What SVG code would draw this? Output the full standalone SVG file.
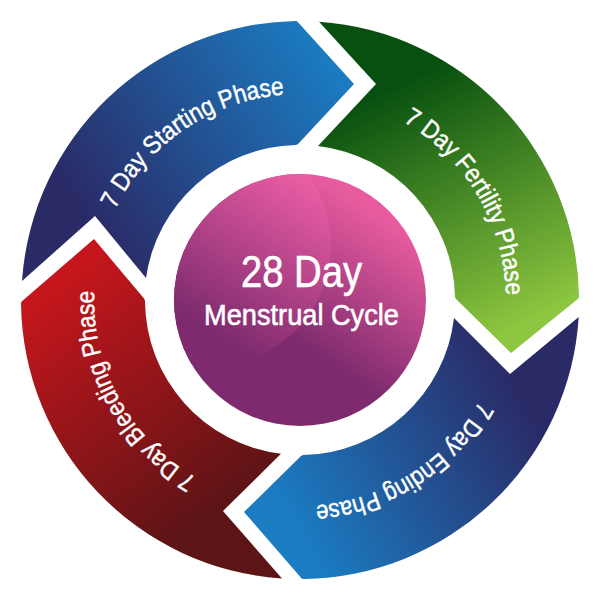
<svg xmlns="http://www.w3.org/2000/svg" width="600" height="600" viewBox="0 0 600 600">
<style>
.lbl{font-family:"Liberation Sans",Arial,sans-serif;font-size:25.5px;fill:#fff;stroke:#fff;stroke-width:.45px}
.ctr{font-family:"Liberation Sans",Arial,sans-serif;fill:#fff;stroke:#fff;stroke-width:.6px}
</style>
<defs>
<linearGradient id="gBlue" gradientUnits="userSpaceOnUse" x1="340" y1="70" x2="95" y2="235"><stop offset="0" stop-color="#1b7cc2"/><stop offset="1" stop-color="#2a2a66"/></linearGradient>
<linearGradient id="gGreen" gradientUnits="userSpaceOnUse" x1="385" y1="90" x2="500" y2="335"><stop offset="0" stop-color="#07500f"/><stop offset="1" stop-color="#8dc63f"/></linearGradient>
<linearGradient id="gEnd" gradientUnits="userSpaceOnUse" x1="290" y1="520" x2="520" y2="390"><stop offset="0" stop-color="#1b7cc2"/><stop offset="1" stop-color="#2a2a66"/></linearGradient>
<linearGradient id="gRed" gradientUnits="userSpaceOnUse" x1="50" y1="290" x2="215" y2="510"><stop offset="0" stop-color="#c4161c"/><stop offset="1" stop-color="#5d1416"/></linearGradient>
<linearGradient id="gBase" gradientUnits="userSpaceOnUse" x1="410" y1="235" x2="325" y2="362"><stop offset="0" stop-color="#e85c9f"/><stop offset="1" stop-color="#7d2a6e"/></linearGradient>
<linearGradient id="gLens" gradientUnits="userSpaceOnUse" x1="320" y1="180" x2="218" y2="338"><stop offset="0" stop-color="#ee5fa6"/><stop offset="1" stop-color="#7d2a6e"/></linearGradient>
<clipPath id="cDisc"><circle cx="300" cy="300" r="126"/></clipPath>
<path id="pStart" d="M115 209.400A206 206 0 0 1 318 94.800"/>
<path id="pFert" d="M403 121.600A206 206 0 0 1 502.900 335.800"/>
<path id="pEnd" d="M479.300 401.400A206 206 0 0 1 282 505.200"/>
<path id="pBleed" d="M196.400 478A206 206 0 0 1 97.100 264.200"/>
</defs>
<g id="node-starting">
<path fill="url(#gBlue)" d="M22 281A279 279 0 0 1 295.500 21Q297 21 298 22.200L354 84L298.500 143.500Q297.500 144.800 295.500 145A155 155 0 0 0 146 278L95 216Z"/>
<text class="lbl"><textPath href="#pStart" textLength="214" lengthAdjust="spacingAndGlyphs">7 Day Starting Phase</textPath></text>
</g>
<g id="node-fertility">
<path fill="url(#gGreen)" d="M319 21.700A279 279 0 0 1 579 296.500Q579 298 577.800 299L511 353L456.500 299.500Q455 298 455 296.500A155 155 0 0 0 318 146L376 84Z"/>
<text class="lbl"><textPath href="#pFert" textLength="211" lengthAdjust="spacingAndGlyphs">7 Day Fertility Phase</textPath></text>
</g>
<g id="node-ending">
<path fill="url(#gEnd)" d="M578.700 317A279 279 0 0 1 303.500 579Q302 579 301 577.800L244 512L300 457Q301.500 455.200 303.500 455A155 155 0 0 0 454 318L510 374Z"/>
<text class="lbl"><textPath href="#pEnd" textLength="202" lengthAdjust="spacingAndGlyphs">7 Day Ending Phase</textPath></text>
</g>
<g id="node-bleeding">
<path fill="url(#gRed)" d="M282 578.400A279 279 0 0 1 21 303.500Q21 302 22.200 301L94 239L144 298.500Q145 299.800 145 301.500A155 155 0 0 0 281 453.800L223 511Z"/>
<text class="lbl"><textPath href="#pBleed" textLength="224" lengthAdjust="spacingAndGlyphs">7 Day Bleeding Phase</textPath></text>
</g>
<g id="node-center">
<circle cx="300" cy="300" r="126" fill="url(#gBase)"/>
<circle cx="210" cy="245" r="121" fill="url(#gLens)" clip-path="url(#cDisc)"/>
<text class="ctr" x="241" y="287" font-size="44" textLength="121" lengthAdjust="spacingAndGlyphs">28 Day</text>
<text class="ctr" x="204" y="325" font-size="30" textLength="195" lengthAdjust="spacingAndGlyphs">Menstrual Cycle</text>
</g>
<g id="connectors"/>
</svg>
